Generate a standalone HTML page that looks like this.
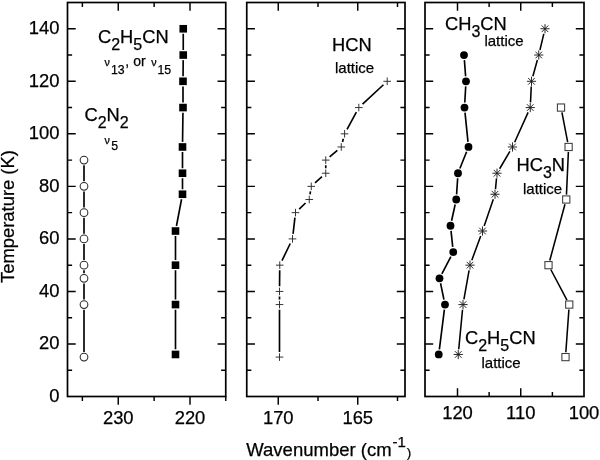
<!DOCTYPE html>
<html><head><meta charset="utf-8"><title>Figure</title>
<style>html,body{margin:0;padding:0;background:#fff}svg{display:block}</style></head>
<body>
<svg width="600" height="460" viewBox="0 0 600 460">
<rect width="600" height="460" fill="#fff"/>
<rect x="67.5" y="2.5" width="158.25" height="394.0" fill="none" stroke="#000" stroke-width="1.7"/>
<rect x="246.75" y="2.5" width="158.25" height="394.0" fill="none" stroke="#000" stroke-width="1.7"/>
<rect x="425.0" y="2.5" width="159.0" height="394.0" fill="none" stroke="#000" stroke-width="1.7"/>
<path d="M67.5 370.23h4.6 M225.75 370.23h-4.6 M67.5 343.97h8.2 M225.75 343.97h-8.2 M67.5 317.70h4.6 M225.75 317.70h-4.6 M67.5 291.43h8.2 M225.75 291.43h-8.2 M67.5 265.17h4.6 M225.75 265.17h-4.6 M67.5 238.90h8.2 M225.75 238.90h-8.2 M67.5 212.63h4.6 M225.75 212.63h-4.6 M67.5 186.37h8.2 M225.75 186.37h-8.2 M67.5 160.10h4.6 M225.75 160.10h-4.6 M67.5 133.83h8.2 M225.75 133.83h-8.2 M67.5 107.57h4.6 M225.75 107.57h-4.6 M67.5 81.30h8.2 M225.75 81.30h-8.2 M67.5 55.03h4.6 M225.75 55.03h-4.6 M67.5 28.77h8.2 M225.75 28.77h-8.2 M246.75 370.23h4.6 M405.0 370.23h-4.6 M246.75 343.97h8.2 M405.0 343.97h-8.2 M246.75 317.70h4.6 M405.0 317.70h-4.6 M246.75 291.43h8.2 M405.0 291.43h-8.2 M246.75 265.17h4.6 M405.0 265.17h-4.6 M246.75 238.90h8.2 M405.0 238.90h-8.2 M246.75 212.63h4.6 M405.0 212.63h-4.6 M246.75 186.37h8.2 M405.0 186.37h-8.2 M246.75 160.10h4.6 M405.0 160.10h-4.6 M246.75 133.83h8.2 M405.0 133.83h-8.2 M246.75 107.57h4.6 M405.0 107.57h-4.6 M246.75 81.30h8.2 M405.0 81.30h-8.2 M246.75 55.03h4.6 M405.0 55.03h-4.6 M246.75 28.77h8.2 M405.0 28.77h-8.2 M425.0 370.23h4.6 M584.0 370.23h-4.6 M425.0 343.97h8.2 M584.0 343.97h-8.2 M425.0 317.70h4.6 M584.0 317.70h-4.6 M425.0 291.43h8.2 M584.0 291.43h-8.2 M425.0 265.17h4.6 M584.0 265.17h-4.6 M425.0 238.90h8.2 M584.0 238.90h-8.2 M425.0 212.63h4.6 M584.0 212.63h-4.6 M425.0 186.37h8.2 M584.0 186.37h-8.2 M425.0 160.10h4.6 M584.0 160.10h-4.6 M425.0 133.83h8.2 M584.0 133.83h-8.2 M425.0 107.57h4.6 M584.0 107.57h-4.6 M425.0 81.30h8.2 M584.0 81.30h-8.2 M425.0 55.03h4.6 M584.0 55.03h-4.6 M425.0 28.77h8.2 M584.0 28.77h-8.2 M82.38 2.5v4.6 M82.38 396.5v4.6 M118.25 2.5v8.2 M118.25 396.5v8.2 M154.12 2.5v4.6 M154.12 396.5v4.6 M190.00 2.5v8.2 M190.00 396.5v8.2 M278.25 2.5v8.2 M278.25 396.5v8.2 M318.00 2.5v4.6 M318.00 396.5v4.6 M357.75 2.5v8.2 M357.75 396.5v8.2 M397.50 2.5v4.6 M397.50 396.5v4.6 M457.50 2.5v8.2 M457.50 396.5v-8.2 M489.12 2.5v4.6 M489.12 396.5v-4.6 M520.75 2.5v8.2 M520.75 396.5v-8.2 M552.38 2.5v4.6 M552.38 396.5v-4.6 M225.75 396.5v4.6" stroke="#000" stroke-width="1.45" fill="none"/>
<path d="M84.00 352.00L84.00 309.67 M84.00 299.47L84.00 283.40 M84.00 273.20L84.00 270.27 M84.00 260.07L84.00 244.00 M84.00 233.80L84.00 217.73 M84.00 207.53L84.00 191.47 M84.00 181.27L84.00 165.20" stroke="#000" stroke-width="1.65" fill="none"/>
<path d="M175.50 349.37L175.50 309.67 M175.50 299.47L175.50 270.27 M175.50 260.07L175.50 236.12 M176.45 226.01L181.55 199.26 M182.50 189.15L182.50 178.33 M182.50 168.13L182.50 152.07 M182.56 141.87L182.94 112.67 M183.00 102.47L183.00 86.40 M183.05 76.20L183.20 60.13 M183.25 49.93L183.25 33.87" stroke="#000" stroke-width="1.65" fill="none"/>
<circle cx="84" cy="357.10" r="3.85" fill="#fff" stroke="#2a2a2a" stroke-width="1.05"/>
<circle cx="84" cy="304.57" r="3.85" fill="#fff" stroke="#2a2a2a" stroke-width="1.05"/>
<circle cx="84" cy="278.30" r="3.85" fill="#fff" stroke="#2a2a2a" stroke-width="1.05"/>
<circle cx="84" cy="265.17" r="3.85" fill="#fff" stroke="#2a2a2a" stroke-width="1.05"/>
<circle cx="84" cy="238.90" r="3.85" fill="#fff" stroke="#2a2a2a" stroke-width="1.05"/>
<circle cx="84" cy="212.63" r="3.85" fill="#fff" stroke="#2a2a2a" stroke-width="1.05"/>
<circle cx="84" cy="186.37" r="3.85" fill="#fff" stroke="#2a2a2a" stroke-width="1.05"/>
<circle cx="84" cy="160.10" r="3.85" fill="#fff" stroke="#2a2a2a" stroke-width="1.05"/>
<rect x="171.70" y="350.67" width="7.6" height="7.6" fill="#000"/>
<rect x="171.70" y="300.77" width="7.6" height="7.6" fill="#000"/>
<rect x="171.70" y="261.37" width="7.6" height="7.6" fill="#000"/>
<rect x="171.70" y="227.22" width="7.6" height="7.6" fill="#000"/>
<rect x="178.70" y="190.45" width="7.6" height="7.6" fill="#000"/>
<rect x="178.70" y="169.43" width="7.6" height="7.6" fill="#000"/>
<rect x="178.70" y="143.17" width="7.6" height="7.6" fill="#000"/>
<rect x="179.20" y="103.77" width="7.6" height="7.6" fill="#000"/>
<rect x="179.20" y="77.50" width="7.6" height="7.6" fill="#000"/>
<rect x="179.45" y="51.23" width="7.6" height="7.6" fill="#000"/>
<rect x="179.45" y="24.97" width="7.6" height="7.6" fill="#000"/>
<path d="M279.50 352.00L279.50 309.67 M279.50 299.47L279.50 296.53 M279.55 286.33L279.70 270.27 M281.98 260.58L290.27 243.49 M293.08 233.83L294.92 217.70 M299.19 209.11L305.56 203.02 M310.02 194.46L310.48 191.41 M315.03 182.94L321.97 176.66 M325.75 168.13L325.75 165.20 M329.64 156.80L337.36 150.26 M342.51 142.02L343.34 138.78 M347.03 129.35L356.37 112.05 M362.54 104.10L383.46 84.76" stroke="#000" stroke-width="1.65" fill="none"/>
<path d="M275.70 357.10h7.6M279.50 353.30v7.6 M275.70 304.57h7.6M279.50 300.77v7.6 M275.70 291.43h7.6M279.50 287.63v7.6 M275.95 265.17h7.6M279.75 261.37v7.6 M288.70 238.90h7.6M292.50 235.10v7.6 M291.70 212.63h7.6M295.50 208.83v7.6 M305.45 199.50h7.6M309.25 195.70v7.6 M307.45 186.37h7.6M311.25 182.57v7.6 M321.95 173.23h7.6M325.75 169.43v7.6 M321.95 160.10h7.6M325.75 156.30v7.6 M337.45 146.97h7.6M341.25 143.17v7.6 M340.80 133.83h7.6M344.60 130.03v7.6 M355.00 107.57h7.6M358.80 103.77v7.6 M383.40 81.30h7.6M387.20 77.50v7.6" stroke="#2a2a2a" stroke-width="0.95" fill="none"/>
<path d="M439.38 349.41L444.37 309.63 M443.95 299.57L440.55 283.29 M441.87 273.78L450.88 256.55 M452.72 246.96L451.03 230.84 M451.59 220.78L455.16 204.48 M456.59 194.41L457.66 178.32 M459.89 168.50L466.61 151.70 M467.98 141.89L465.02 112.64 M464.79 102.47L465.71 86.39 M465.61 76.21L464.39 60.12" stroke="#000" stroke-width="1.65" fill="none"/>
<path d="M458.74 349.30L462.51 309.74 M463.91 299.45L469.09 270.29 M471.79 260.28L480.71 235.90 M484.17 226.10L493.33 199.17 M495.49 189.07L496.51 178.41 M499.64 168.75L509.86 151.45 M514.64 142.23L528.11 112.31 M530.50 102.37L531.25 86.49 M532.88 76.29L537.37 60.05 M539.95 49.97L543.80 33.83" stroke="#000" stroke-width="1.55" fill="none"/>
<path d="M565.85 352.21L568.90 309.45 M566.97 300.23L550.78 269.50 M549.78 260.44L564.97 204.23 M566.47 194.60L568.38 151.86 M567.67 142.16L561.93 112.38" stroke="#000" stroke-width="1.55" fill="none"/>
<circle cx="438.75" cy="354.47" r="3.9" fill="#000"/>
<circle cx="445" cy="304.57" r="3.9" fill="#000"/>
<circle cx="439.5" cy="278.30" r="3.9" fill="#000"/>
<circle cx="453.25" cy="252.03" r="3.9" fill="#000"/>
<circle cx="450.5" cy="225.77" r="3.9" fill="#000"/>
<circle cx="456.25" cy="199.50" r="3.9" fill="#000"/>
<circle cx="458" cy="173.23" r="3.9" fill="#000"/>
<circle cx="468.5" cy="146.97" r="3.9" fill="#000"/>
<circle cx="464.5" cy="107.57" r="3.9" fill="#000"/>
<circle cx="466" cy="81.30" r="3.9" fill="#000"/>
<circle cx="464" cy="55.03" r="3.9" fill="#000"/>
<path d="M453.65 354.47h9.2M458.25 349.87v9.2M454.94 351.16l6.62 6.62M454.94 357.79l6.62 -6.62 M458.40 304.57h9.2M463.00 299.97v9.2M459.69 301.25l6.62 6.62M459.69 307.88l6.62 -6.62 M465.40 265.17h9.2M470.00 260.57v9.2M466.69 261.85l6.62 6.62M466.69 268.48l6.62 -6.62 M477.90 231.02h9.2M482.50 226.42v9.2M479.19 227.71l6.62 6.62M479.19 234.33l6.62 -6.62 M490.40 194.25h9.2M495.00 189.65v9.2M491.69 190.93l6.62 6.62M491.69 197.56l6.62 -6.62 M492.40 173.23h9.2M497.00 168.63v9.2M493.69 169.92l6.62 6.62M493.69 176.55l6.62 -6.62 M507.90 146.97h9.2M512.50 142.37v9.2M509.19 143.65l6.62 6.62M509.19 150.28l6.62 -6.62 M525.65 107.57h9.2M530.25 102.97v9.2M526.94 104.25l6.62 6.62M526.94 110.88l6.62 -6.62 M526.90 81.30h9.2M531.50 76.70v9.2M528.19 77.99l6.62 6.62M528.19 84.61l6.62 -6.62 M534.15 55.03h9.2M538.75 50.43v9.2M535.44 51.72l6.62 6.62M535.44 58.35l6.62 -6.62 M540.40 28.77h9.2M545.00 24.17v9.2M541.69 25.45l6.62 6.62M541.69 32.08l6.62 -6.62" stroke="#1c1c1c" stroke-width="0.95" fill="none"/>
<rect x="561.90" y="353.50" width="7.2" height="7.2" fill="#fff" stroke="#3a3a3a" stroke-width="1.05"/>
<rect x="565.65" y="300.97" width="7.2" height="7.2" fill="#fff" stroke="#3a3a3a" stroke-width="1.05"/>
<rect x="544.90" y="261.57" width="7.2" height="7.2" fill="#fff" stroke="#3a3a3a" stroke-width="1.05"/>
<rect x="562.65" y="195.90" width="7.2" height="7.2" fill="#fff" stroke="#3a3a3a" stroke-width="1.05"/>
<rect x="565.00" y="143.37" width="7.2" height="7.2" fill="#fff" stroke="#3a3a3a" stroke-width="1.05"/>
<rect x="557.40" y="103.97" width="7.2" height="7.2" fill="#fff" stroke="#3a3a3a" stroke-width="1.05"/>
<g font-family="'Liberation Sans', Arial, sans-serif" fill="#000" stroke="#000" stroke-width="0.25">
<text x="59.5" y="401.90" font-size="18.4" text-anchor="end">0</text>
<text x="59.5" y="349.37" font-size="18.4" text-anchor="end">20</text>
<text x="59.5" y="296.83" font-size="18.4" text-anchor="end">40</text>
<text x="59.5" y="244.30" font-size="18.4" text-anchor="end">60</text>
<text x="59.5" y="191.77" font-size="18.4" text-anchor="end">80</text>
<text x="59.5" y="139.23" font-size="18.4" text-anchor="end">100</text>
<text x="59.5" y="86.70" font-size="18.4" text-anchor="end">120</text>
<text x="59.5" y="34.17" font-size="18.4" text-anchor="end">140</text>
<text x="118.25" y="423.7" font-size="18.4" text-anchor="middle">230</text>
<text x="190" y="423.7" font-size="18.4" text-anchor="middle">220</text>
<text x="278.25" y="423.7" font-size="18.4" text-anchor="middle">170</text>
<text x="357.75" y="423.7" font-size="18.4" text-anchor="middle">165</text>
<text x="457.5" y="419.0" font-size="18.4" text-anchor="middle">120</text>
<text x="520.75" y="419.0" font-size="18.4" text-anchor="middle">110</text>
<text x="584" y="419.0" font-size="18.4" text-anchor="middle">100</text>
<text x="246.3" y="455.8" font-size="18.5">Wavenumber (cm</text>
<text x="392.6" y="446.6" font-size="15">-1</text>
<text x="406.8" y="456.8" font-size="13.5">)</text>
<text transform="translate(13.8 283) rotate(-90)" font-size="18.4">Temperature (K)</text>
<text x="98" y="42.5" font-size="18.3">C<tspan font-size="16" dy="7">2</tspan><tspan dy="-7" font-size="1">&#8203;</tspan>H<tspan font-size="16" dy="7">5</tspan><tspan dy="-7" font-size="1">&#8203;</tspan>CN</text>
<text x="84.5" y="121.25" font-size="18.3">C<tspan font-size="16" dy="7">2</tspan><tspan dy="-7" font-size="1">&#8203;</tspan>N<tspan font-size="16" dy="7">2</tspan><tspan dy="-7" font-size="1">&#8203;</tspan></text>
<text x="104.6" y="65.8" font-size="10.8">ν</text>
<text x="111" y="73.9" font-size="12.3">13</text>
<text x="125.2" y="65.9" font-size="14">,</text>
<text x="133.2" y="65.9" font-size="14">or</text>
<text x="151.3" y="65.8" font-size="10.8">ν</text>
<text x="157.4" y="73.9" font-size="12.3">15</text>
<text x="104.6" y="143.6" font-size="10.8">ν</text>
<text x="111.2" y="150" font-size="12.3">5</text>
<text x="332" y="50.6" font-size="18.3">HCN</text>
<text x="335" y="73" font-size="15">lattice</text>
<text x="445" y="29.6" font-size="18.3">CH<tspan font-size="16" dy="7">3</tspan><tspan dy="-7" font-size="1">&#8203;</tspan>CN</text>
<text x="484.4" y="46.4" font-size="15">lattice</text>
<text x="516.5" y="170.8" font-size="18.3">HC<tspan font-size="16" dy="7">3</tspan><tspan dy="-7" font-size="1">&#8203;</tspan>N</text>
<text x="523" y="194.3" font-size="15">lattice</text>
<text x="465" y="343.5" font-size="18.3">C<tspan font-size="16" dy="7">2</tspan><tspan dy="-7" font-size="1">&#8203;</tspan>H<tspan font-size="16" dy="7">5</tspan><tspan dy="-7" font-size="1">&#8203;</tspan>CN</text>
<text x="481.5" y="367.8" font-size="15">lattice</text>
</g>
</svg>
</body></html>
